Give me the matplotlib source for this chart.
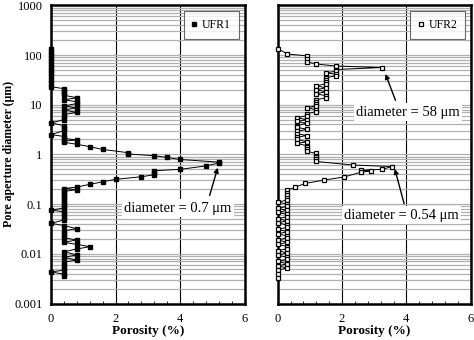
import matplotlib
matplotlib.use("Agg")
import matplotlib.pyplot as plt
from matplotlib.ticker import LogLocator, MultipleLocator, FixedLocator, NullFormatter

plt.rcParams['font.family'] = ['Liberation Serif', 'DejaVu Serif']
plt.rcParams['mathtext.fontset'] = 'stix'

# ---------------- data ----------------
ufr1_d = [130, 115, 100, 88, 77, 67, 58, 50, 43, 37, 32, 27, 23,
          21, 19, 17, 15.5, 13.8, 12.5, 11.5, 10.5, 9.5, 8.7, 7.8, 7.0,
          6.3, 5.6, 5.0, 4.3, 3.8, 3.4, 3.0, 2.5, 2.3, 2.1, 1.95, 1.85,
          1.75, 1.6, 1.43, 1.26, 1.08, 1.02, 0.94, 0.87, 0.79, 0.70, 0.67,
          0.585, 0.50, 0.47, 0.43, 0.39, 0.355, 0.315, 0.28, 0.25, 0.22,
          0.205, 0.195, 0.18, 0.165, 0.15, 0.14, 0.125, 0.11, 0.10, 0.09,
          0.083, 0.076, 0.07, 0.062, 0.055, 0.048, 0.041, 0.037, 0.032,
          0.029, 0.026, 0.023, 0.021, 0.019, 0.017, 0.0155, 0.0139, 0.0125,
          0.011, 0.0095, 0.0085, 0.0075, 0.0068, 0.006, 0.0052, 0.0047,
          0.0043, 0.0039, 0.0035]
ufr1_p = [0, 0, 0, 0, 0, 0, 0, 0, 0, 0, 0, 0, 0,
          0.4, 0.4, 0.4, 0.4, 0.8, 0.4, 0.8, 0.8, 0.4, 0.8, 0.4, 0.8,
          0.4, 0.4, 0.4, 0, 0.4, 0.4, 0.4, 0, 0.4, 0.4, 0.8, 0.4,
          0.4, 0.8, 1.2, 1.6, 2.4, 2.4, 3.2, 3.6, 4.0, 5.2, 5.2,
          4.8, 4.0, 3.2, 3.2, 3.2, 2.8, 2.0, 1.6, 1.2, 0.8,
          0.4, 0.8, 0.4, 0.4, 0.4, 0.4, 0.4, 0.4, 0.4, 0.4,
          0.4, 0, 0.4, 0.4, 0.4, 0.4, 0, 0.4, 0.8,
          0.4, 0.4, 0.4, 0.4, 0.8, 0.4, 0.8, 1.2, 0.8,
          0.4, 0.8, 0.4, 0.8, 0.4, 0.4, 0.4, 0.4,
          0, 0.4, 0.4]

ufr2_d = [135, 105, 96, 85, 73, 66, 60, 56, 51, 47, 44, 41, 38, 35,
          31.6, 28.8, 26.3, 24, 21.9, 20, 18.2, 16.6, 15.1, 13.8, 12.6,
          11.5, 10.5, 9.5, 8.7, 7.9, 7.2, 6.6, 6.0, 5.5, 5.0, 4.6, 4.2,
          3.8, 3.5, 3.2, 2.9, 2.6, 2.4, 2.2, 2.0, 1.8, 1.66, 1.5, 1.38,
          1.26, 1.15, 1.05, 0.95, 0.87, 0.79, 0.72, 0.61, 0.57, 0.50,
          0.48, 0.46, 0.44, 0.35, 0.305, 0.26, 0.22, 0.19,
          0.17, 0.15, 0.135, 0.12, 0.11, 0.10, 0.09, 0.082, 0.075, 0.068,
          0.062, 0.056, 0.051, 0.046, 0.042, 0.038, 0.034, 0.031, 0.028,
          0.025, 0.023, 0.021, 0.019, 0.017, 0.0155, 0.014, 0.0127,
          0.0115, 0.0104, 0.0094, 0.0085, 0.0077, 0.007, 0.0063, 0.0057,
          0.0052, 0.0047, 0.004, 0.0033]
ufr2_p = [0, 0.3, 0.9, 0.9, 0.9, 1.2, 1.8, 3.25, 1.8, 1.8, 1.5, 1.8, 1.8, 1.5,
          1.5, 1.5, 1.5, 1.2, 1.5, 1.2, 1.5, 1.2, 1.5, 1.5, 1.2,
          1.2, 1.2, 1.2, 0.9, 1.2, 1.2, 0.9, 0.9, 0.6, 0.9, 0.6, 0.9,
          0.6, 0.6, 0.9, 0.6, 0.6, 0.9, 0.6, 0.6, 0.9, 0.6, 0.9, 0.9,
          0.9, 0.9, 1.2, 1.2, 1.2, 1.2, 1.2, 2.35, 3.55, 3.25,
          2.6, 2.9, 2.6, 2.05, 1.45, 0.85, 0.55, 0.3,
          0.3, 0.3, 0.3, 0.3, 0, 0.3, 0.3, 0, 0.3, 0,
          0.3, 0.3, 0, 0.3, 0, 0.3, 0.3, 0, 0.3,
          0, 0.3, 0.3, 0, 0.3, 0, 0.3, 0.3,
          0, 0.3, 0, 0.3, 0.3, 0, 0.3, 0,
          0.3, 0, 0, 0]

assert len(ufr1_d) == len(ufr1_p)
assert len(ufr2_d) == len(ufr2_p)

x_ticks = [0, 2, 4, 6]
y_ticks = [0.001, 0.01, 0.1, 1, 10, 100, 1000]
y_ticklabels = ['0.001', '0.01', '0.1', '1', '10', '100', '1000']

# ---------------- figure ----------------
fig = plt.figure(figsize=(4.74, 3.40), dpi=100)
ax1 = fig.add_axes([51/474, 1-303.5/340, 193.5/474, 298.2/340])
ax2 = fig.add_axes([277.7/474, 1-303.5/340, 193/474, 298.2/340])

grid_gray = '#b0b0b0'

for ax in (ax1, ax2):
    ax.set_yscale('log')
    ax.set_xlim(0, 6)
    ax.set_ylim(0.001, 1000)
    ax.yaxis.set_major_locator(FixedLocator(y_ticks))
    ax.yaxis.set_minor_locator(LogLocator(base=10, subs=[2, 3, 4, 5, 6, 7, 8, 9], numticks=20))
    ax.yaxis.set_minor_formatter(NullFormatter())
    ax.xaxis.set_major_locator(FixedLocator(x_ticks))
    ax.xaxis.set_minor_locator(MultipleLocator(0.4))
    ax.grid(True, axis='y', which='both', color=grid_gray, lw=0.9)
    ax.grid(True, axis='x', which='major', color='black', lw=0.8)
    ax.tick_params(axis='y', which='both', length=0, pad=6, labelsize=9)
    ax.tick_params(axis='x', which='major', direction='in', length=0, pad=7, labelsize=9)
    ax.tick_params(axis='x', which='minor', direction='in', length=2.5, width=0.6)
    for s in ax.spines.values():
        s.set_linewidth(1.8)
    ax.set_axisbelow(True)
    ax.set_xlabel('Porosity (%)', fontsize=9.5, fontweight='bold', labelpad=0)

ax1.set_yticklabels(y_ticklabels)
ax2.set_yticklabels([])
ax1.set_ylabel('Pore aperture diameter (\u03bcm)', fontsize=8.6, fontweight='bold')
ax1.yaxis.set_label_coords(-36/193.5, 0.5)

ax1.plot(ufr1_p, ufr1_d, color='black', lw=0.7, marker='s', ms=2.4,
         mfc='black', mec='black', label='UFR1', clip_on=False, zorder=3)
ax2.plot(ufr2_p, ufr2_d, color='black', lw=0.7, marker='s', ms=2.5,
         mfc='white', mec='black', mew=0.9, label='UFR2', clip_on=False, zorder=3)

for ax in (ax1, ax2):
    leg = ax.legend(loc='upper right', fontsize=8.5, frameon=True, fancybox=False,
                    handlelength=0.5, handletextpad=0.4, borderpad=0.65,
                    borderaxespad=0.5, markerscale=1.0)
    leg.get_frame().set_edgecolor('#444444')
    leg.get_frame().set_linewidth(0.8)
    for h in leg.get_lines():
        h.set_linestyle('none')

bbox = dict(boxstyle='square,pad=0.15', fc='white', ec='none')
arrow = dict(arrowstyle='-|>', color='black', lw=1.0, mutation_scale=7, shrinkA=0, shrinkB=0)

ax1.text(3.93, 0.083, 'diameter = 0.7 \u03bcm', fontsize=10.5, ha='center', va='center', bbox=bbox, zorder=4)
ax1.annotate('', xy=(5.17, 0.54), xytext=(4.92, 0.15), arrowprops=arrow, zorder=5)

ax2.text(4.05, 7.1, 'diameter = 58 \u03bcm', fontsize=10.5, ha='center', va='center', bbox=bbox, zorder=4)
ax2.annotate('', xy=(3.35, 41.6), xytext=(3.66, 12.3), arrowprops=arrow, zorder=5)

ax2.text(3.85, 0.060, 'diameter = 0.54 \u03bcm', fontsize=10.5, ha='center', va='center', bbox=bbox, zorder=4)
ax2.annotate('', xy=(3.64, 0.51), xytext=(3.93, 0.102), arrowprops=arrow, zorder=5)

fig.savefig('out.png', dpi=100)
